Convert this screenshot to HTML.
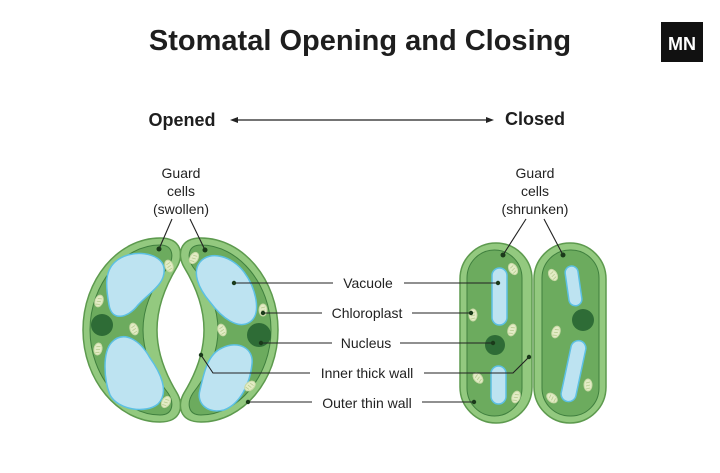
<!DOCTYPE html>
<html><head><meta charset="utf-8"><style>
html,body{margin:0;padding:0;background:#fff;}
svg{display:block;font-family:"Liberation Sans",sans-serif;}
</style></head><body>
<svg width="720" height="473" viewBox="0 0 720 473" xmlns="http://www.w3.org/2000/svg">
<defs>
<g id="chl"><ellipse cx="0" cy="0" rx="4" ry="6" fill="#e3ecc6" stroke="#c9d9a6" stroke-width="1"/><line x1="-2" y1="-2" x2="2" y2="-3" stroke="#b8cc90" stroke-width="0.8"/><line x1="-2" y1="1" x2="2" y2="0" stroke="#b8cc90" stroke-width="0.8"/><line x1="-2" y1="4" x2="2" y2="3" stroke="#b8cc90" stroke-width="0.8"/></g>
<g id="kid">
<path d="M160,238 C118,238 83,280 83,330 C83,380 118,422 160,422 C182,422 184,405 177,393 C163,370 157,350 157,330 C157,310 163,290 177,267 C184,255 182,238 160,238 Z" fill="#93c97f" stroke="#5d9a4e" stroke-width="1.5"/>
<path d="M160,245 C123,245 90,284 90,330 C90,376 123,415 160,415 C174,415 174,402 168,393 C150,370 143,350 143,330 C143,310 150,290 168,267 C174,258 174,245 160,245 Z" fill="#6cab5e" stroke="#3f7f3e" stroke-width="1"/>
</g>
</defs>
<text x="360" y="50" text-anchor="middle" font-size="29" font-weight="bold" fill="#1e1e1e">Stomatal Opening and Closing</text>
<rect x="661" y="22" width="42" height="40" fill="#111"/>
<text x="682" y="50" text-anchor="middle" font-size="18" font-weight="bold" fill="#fff">MN</text>
<text x="182" y="126" text-anchor="middle" font-size="18" font-weight="bold" fill="#1e1e1e">Opened</text>
<text x="535" y="125" text-anchor="middle" font-size="18" font-weight="bold" fill="#1e1e1e">Closed</text>
<line x1="234" y1="120" x2="490" y2="120" stroke="#222" stroke-width="1.2"/>
<path d="M230,120 L238,117 L238,123 Z" fill="#222"/><path d="M494,120 L486,117 L486,123 Z" fill="#222"/>

<g font-size="14" fill="#222" text-anchor="middle">
<text x="181" y="178">Guard</text><text x="181" y="196">cells</text><text x="181" y="214">(swollen)</text>
<text x="535" y="178">Guard</text><text x="535" y="196">cells</text><text x="535" y="214">(shrunken)</text>
</g>

<!-- opened -->
<use href="#kid"/>
<use href="#kid" transform="translate(361,0) scale(-1,1)"/>
<g fill="#bde3f1" stroke="#5cc0e3" stroke-width="1.5">
<path d="M115,262 C130,248 162,252 164,268 C166,284 150,292 138,305 C128,318 112,322 109,305 C106,288 104,272 115,262 Z"/>
<path d="M112,342 C124,330 140,340 150,358 C160,372 170,392 158,404 C146,414 118,410 110,395 C104,380 102,352 112,342 Z"/>
<path d="M200,262 C210,250 232,256 244,272 C256,288 262,314 250,322 C238,330 222,318 210,302 C198,288 192,272 200,262 Z"/>
<path d="M222,348 C238,340 254,348 252,364 C250,384 240,404 224,410 C208,414 196,404 200,390 C204,372 208,354 222,348 Z"/>
</g>
<circle cx="102" cy="325" r="11" fill="#2e6c36"/>
<circle cx="259" cy="335" r="12" fill="#2e6c36"/>
<use href="#chl" transform="translate(169,266) rotate(-20)"/>
<use href="#chl" transform="translate(99,301) rotate(20)"/>
<use href="#chl" transform="translate(134,329) rotate(-20)"/>
<use href="#chl" transform="translate(98,349) rotate(10)"/>
<use href="#chl" transform="translate(166,402) rotate(30)"/>
<use href="#chl" transform="translate(194,258) rotate(30)"/>
<use href="#chl" transform="translate(263,310)"/>
<use href="#chl" transform="translate(222,330) rotate(-20)"/>
<use href="#chl" transform="translate(250,386) rotate(50)"/>

<!-- closed -->
<rect x="460" y="243" width="72" height="180" rx="36" fill="#93c97f" stroke="#5d9a4e" stroke-width="1.5"/>
<rect x="534" y="243" width="72" height="180" rx="36" fill="#93c97f" stroke="#5d9a4e" stroke-width="1.5"/>
<rect x="467" y="250" width="55" height="166" rx="28" fill="#6cab5e" stroke="#3f7f3e" stroke-width="1"/>
<rect x="542" y="250" width="57" height="166" rx="28" fill="#6cab5e" stroke="#3f7f3e" stroke-width="1"/>
<g fill="#bde3f1" stroke="#5cc0e3" stroke-width="1.5">
<rect x="492" y="268" width="15" height="57" rx="7.5"/>
<rect x="491" y="366" width="15" height="38" rx="7.5"/>
<rect x="567" y="266" width="13" height="40" rx="6.5" transform="rotate(-8 573 286)"/>
<rect x="566" y="340" width="15" height="62" rx="7.5" transform="rotate(12 573 371)"/>
</g>
<circle cx="495" cy="345" r="10" fill="#2e6c36"/>
<circle cx="583" cy="320" r="11" fill="#2e6c36"/>
<use href="#chl" transform="translate(513,269) rotate(-30)"/>
<use href="#chl" transform="translate(473,315)"/>
<use href="#chl" transform="translate(512,330) rotate(20)"/>
<use href="#chl" transform="translate(478,378) rotate(-40)"/>
<use href="#chl" transform="translate(516,397) rotate(20)"/>
<use href="#chl" transform="translate(553,275) rotate(-30)"/>
<use href="#chl" transform="translate(556,332) rotate(20)"/>
<use href="#chl" transform="translate(588,385)"/>
<use href="#chl" transform="translate(552,398) rotate(-50)"/>

<!-- leaders -->
<g stroke="#222" stroke-width="1.1" fill="none">
<line x1="172" y1="219" x2="159" y2="249"/><line x1="190" y1="219" x2="205" y2="250"/>
<line x1="526" y1="219" x2="503" y2="255"/><line x1="544" y1="219" x2="563" y2="255"/>
<line x1="234" y1="283" x2="333" y2="283"/><line x1="404" y1="283" x2="498" y2="283"/>
<line x1="263" y1="313" x2="322" y2="313"/><line x1="412" y1="313" x2="471" y2="313"/>
<line x1="261" y1="343" x2="332" y2="343"/><line x1="400" y1="343" x2="493" y2="343"/>
<polyline points="201,355 213,373 310,373"/><polyline points="424,373 513,373 529,357"/>
<line x1="248" y1="402" x2="312" y2="402"/><line x1="422" y1="402" x2="474" y2="402"/>
</g>
<g fill="#1a3a1a">
<circle cx="159" cy="249" r="2.5"/><circle cx="205" cy="250" r="2.5"/><circle cx="503" cy="255" r="2.5"/><circle cx="563" cy="255" r="2.5"/>
<circle cx="234" cy="283" r="2.2"/><circle cx="498" cy="283" r="2.2"/><circle cx="263" cy="313" r="2.2"/><circle cx="471" cy="313" r="2.2"/>
<circle cx="261" cy="343" r="2.2"/><circle cx="493" cy="343" r="2.2"/><circle cx="201" cy="355" r="2.2"/><circle cx="529" cy="357" r="2.2"/>
<circle cx="248" cy="402" r="2.2"/><circle cx="474" cy="402" r="2.2"/>
</g>
<g font-size="14" fill="#222" text-anchor="middle">
<text x="368" y="288">Vacuole</text>
<text x="367" y="318">Chloroplast</text>
<text x="366" y="348">Nucleus</text>
<text x="367" y="378">Inner thick wall</text>
<text x="367" y="408">Outer thin wall</text>
</g>
</svg>
</body></html>
